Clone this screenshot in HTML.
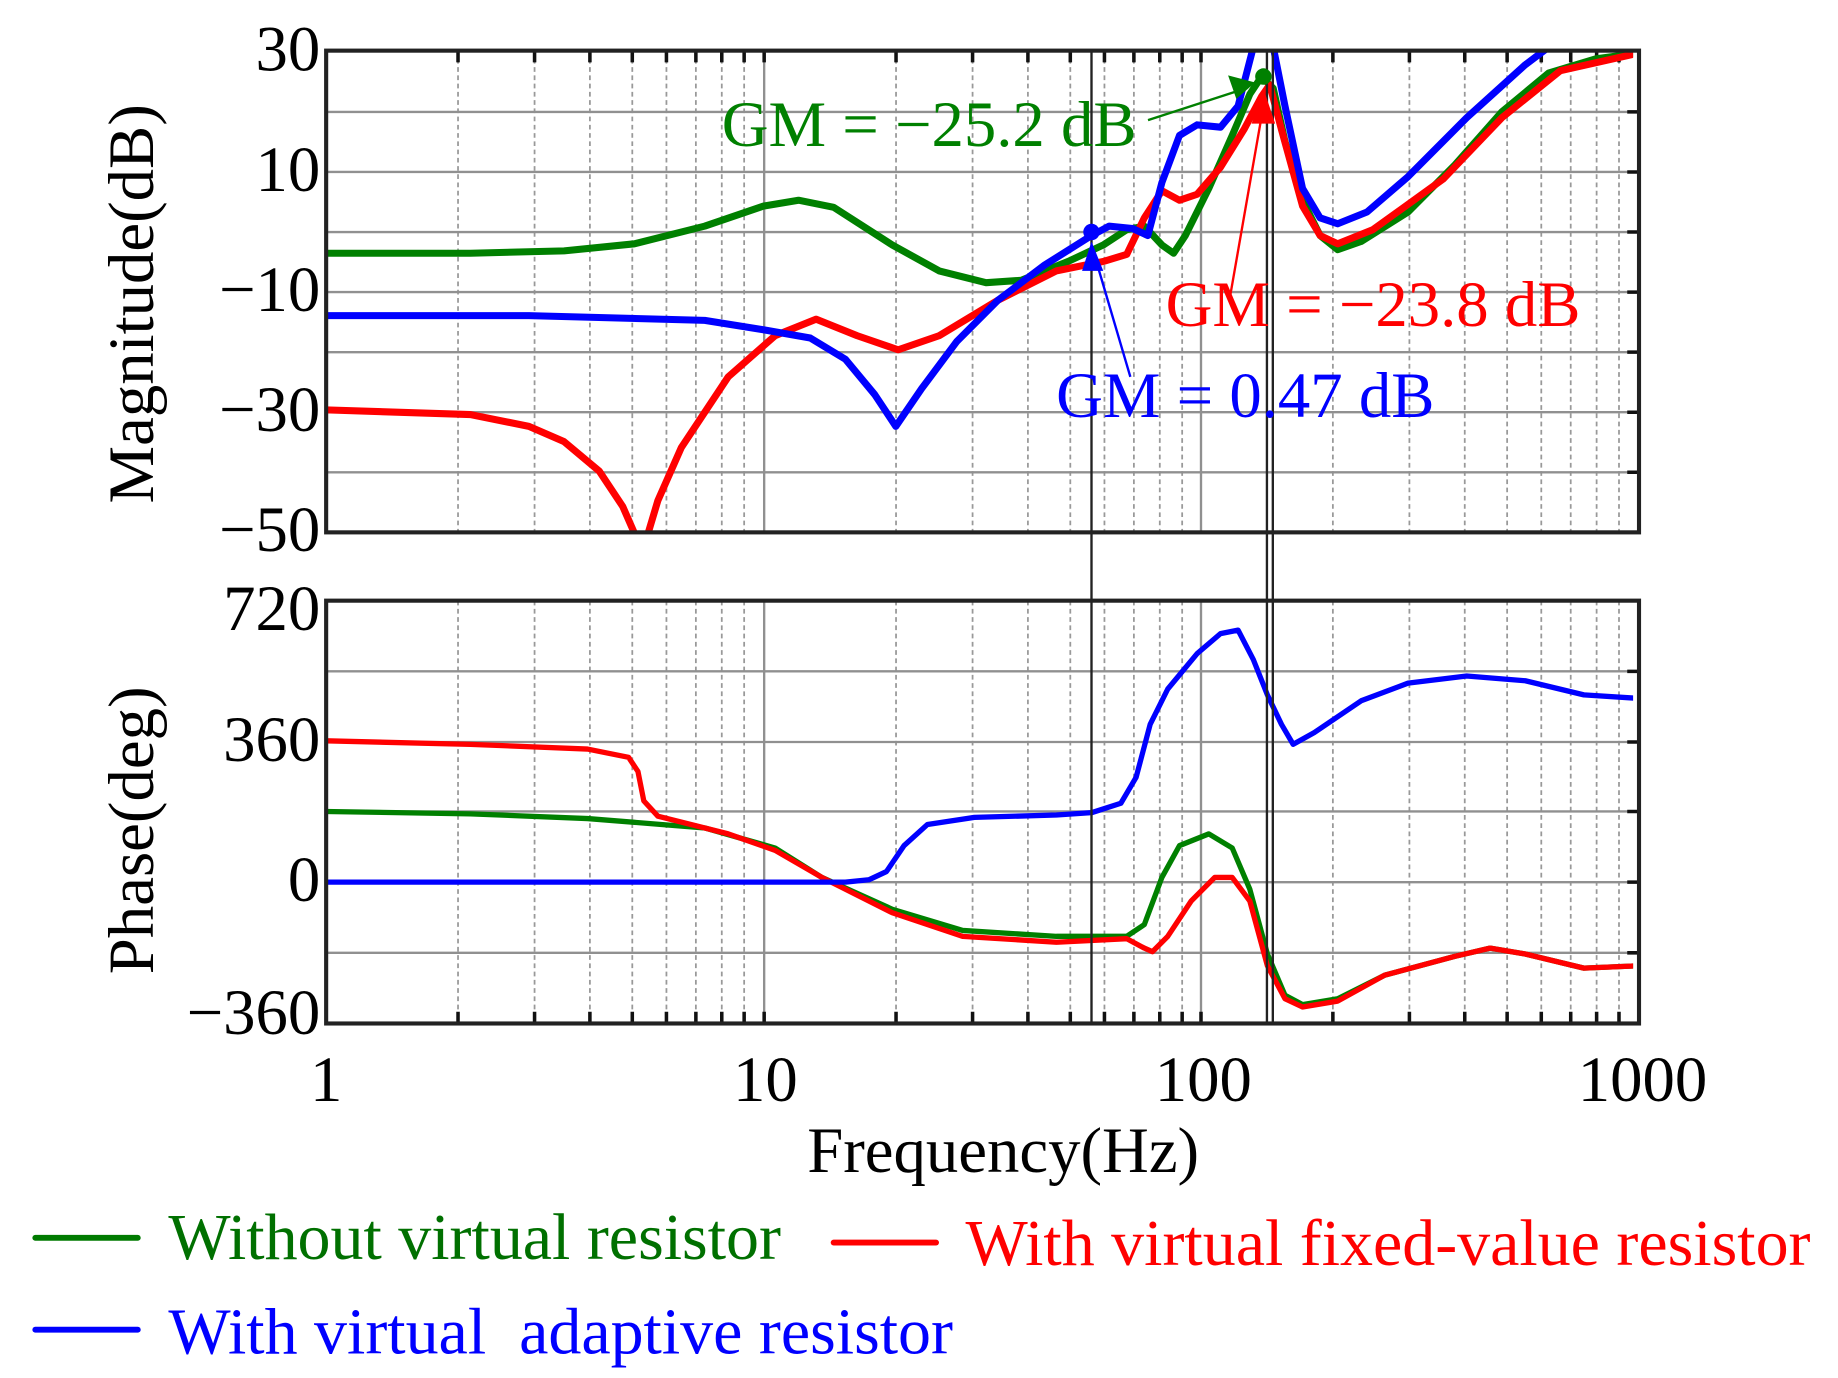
<!DOCTYPE html>
<html><head><meta charset="utf-8"><style>
html,body{margin:0;padding:0;background:#fff;}
svg{display:block;}
text{font-family:"Liberation Serif",serif;}
</style></head><body>
<svg width="1838" height="1378" viewBox="0 0 1561 1170" preserveAspectRatio="none" xmlns="http://www.w3.org/2000/svg">
<defs>
<clipPath id="c1"><rect x="277" y="43" width="1115" height="409"/></clipPath>
<clipPath id="c2"><rect x="277" y="510" width="1115" height="359"/></clipPath>
</defs>
<g stroke="#999" stroke-width="1.5" stroke-dasharray="4,3" fill="none">
<path d="M389 43V452M454 43V452M501 43V452M537 43V452M566 43V452M591 43V452M613 43V452M632 43V452
M761 43V452M826 43V452M873 43V452M909 43V452M938 43V452M963 43V452M985 43V452M1004 43V452
M1132 43V452M1197 43V452M1244 43V452M1280 43V452M1309 43V452M1334 43V452M1356 43V452M1375 43V452
M389 510V869M454 510V869M501 510V869M537 510V869M566 510V869M591 510V869M613 510V869M632 510V869
M761 510V869M826 510V869M873 510V869M909 510V869M938 510V869M963 510V869M985 510V869M1004 510V869
M1132 510V869M1197 510V869M1244 510V869M1280 510V869M1309 510V869M1334 510V869M1356 510V869M1375 510V869"/>
</g>
<g stroke="#909090" stroke-width="2" fill="none">
<path d="M649 43V452M1020 43V452M649 510V869M1020 510V869"/>
<path d="M277 95H1392M277 146H1392M277 197H1392M277 248H1392M277 299H1392M277 350H1392M277 401H1392"/>
<path d="M277 570H1392M277 630H1392M277 689H1392M277 749H1392M277 809H1392"/>
</g>
<g stroke="#111" stroke-width="3" fill="none">
<path d="M389 43v10M454 43v10M501 43v10M537 43v10M566 43v10M591 43v10M613 43v10M632 43v10M649 43v10M761 43v10M826 43v10M873 43v10M909 43v10M938 43v10M963 43v10M985 43v10M1004 43v10M1020 43v10M1132 43v10M1197 43v10M1244 43v10M1280 43v10M1309 43v10M1334 43v10M1356 43v10M1375 43v10"/>
<path d="M389 869v-10M454 869v-10M501 869v-10M537 869v-10M566 869v-10M591 869v-10M613 869v-10M632 869v-10M649 869v-10M761 869v-10M826 869v-10M873 869v-10M909 869v-10M938 869v-10M963 869v-10M985 869v-10M1004 869v-10M1020 869v-10M1132 869v-10M1197 869v-10M1244 869v-10M1280 869v-10M1309 869v-10M1334 869v-10M1356 869v-10M1375 869v-10"/>
<path d="M1392 95h-10M1392 146h-10M1392 197h-10M1392 248h-10M1392 299h-10M1392 350h-10M1392 401h-10M1392 570h-10M1392 630h-10M1392 689h-10M1392 749h-10M1392 809h-10"/>
</g>
<g transform="translate(277,0) scale(0.9955,1) translate(-277,0)">
<g clip-path="url(#c1)" fill="none" stroke-width="6" stroke-linejoin="round" stroke-linecap="round">
<polyline stroke="#008000" points="277,215 400,215 480,213 540,207 600,192 650,175 680,170 710,176 760,208 800,230 840,240 870,238 910,222 940,208 960,195 975,192 990,208 1000,215 1010,200 1030,160 1050,115 1065,80 1075,65 1085,75 1095,120 1110,170 1125,200 1140,212 1160,205 1200,180 1240,140 1280,95 1320,62 1360,50 1397,45"/>
<polyline stroke="#ff0000" points="277,348 400,352 450,362 480,375 510,400 530,430 541,455 551,455 560,425 580,380 620,320 660,285 695,271 730,285 765,297 800,285 850,255 900,230 940,222 960,216 975,185 990,162 1005,170 1020,165 1040,142 1060,110 1075,82 1082,72 1092,110 1110,175 1125,200 1140,207 1170,195 1230,152 1280,100 1330,60 1397,45"/>
<polyline stroke="#0000ff" points="277,268 450,268 600,272 650,280 690,287 720,305 745,335 763,362 785,330 815,290 850,255 890,225 930,200 945,192 965,194 978,200 990,155 1005,115 1020,106 1040,108 1055,90 1068,40 1085,40 1095,90 1110,160 1125,185 1140,190 1165,180 1200,150 1250,100 1300,55 1320,40 1397,40"/>
</g>
<g clip-path="url(#c2)" fill="none" stroke-width="4.5" stroke-linejoin="round" stroke-linecap="round">
<polyline stroke="#008000" points="277,689 400,691 500,695 600,703 660,720 700,745 760,772 820,790 900,795 960,795 975,785 990,745 1005,718 1030,708 1050,720 1065,755 1080,810 1095,845 1110,853 1140,848 1180,828 1240,812 1270,805 1300,810 1350,822 1397,820"/>
<polyline stroke="#ff0000" points="277,629 400,632 500,636 535,643 543,655 548,680 560,693 620,708 660,722 700,745 760,775 820,795 900,800 960,797 975,805 982,808 995,795 1015,765 1035,745 1050,745 1065,765 1080,820 1095,848 1110,855 1140,850 1180,828 1240,812 1270,805 1300,810 1350,822 1397,820"/>
<polyline stroke="#0000ff" points="277,749 720,749 740,747 755,740 770,718 790,700 830,694 900,692 930,690 955,682 968,660 980,615 995,585 1020,555 1040,538 1055,535 1068,560 1080,590 1092,615 1102,632 1120,622 1160,595 1200,580 1250,574 1300,578 1350,590 1397,593"/>
</g>
</g>
<g stroke="#222" stroke-width="2" fill="none">
<path d="M927 43V869M1076 43V869M1081 43V869"/>
</g>
<g stroke="#222" stroke-width="3.5" fill="none">
<rect x="277" y="43" width="1115" height="409"/>
<rect x="277" y="510" width="1115" height="359"/>
</g>
<line x1="975" y1="102" x2="1058" y2="75" stroke="#008000" stroke-width="2"/>
<polygon points="1066,70 1043,64 1050,84" fill="#008000"/>
<circle cx="1073" cy="65" r="7" fill="#008000"/>
<line x1="1045" y1="250" x2="1073" y2="90" stroke="#ff0000" stroke-width="2"/>
<polygon points="1073,75 1063,105 1083,105" fill="#ff0000"/>
<line x1="960" y1="320" x2="932" y2="225" stroke="#0000ff" stroke-width="2"/>
<polygon points="927,205 919,230 937,230" fill="#0000ff"/>
<circle cx="927" cy="197" r="7" fill="#0000ff"/>
<g font-size="55">
<text x="613" y="124" fill="#008000">GM = −25.2 dB</text>
<text x="990" y="277" fill="#ff0000">GM = −23.8 dB</text>
<text x="897" y="354" fill="#0000ff">GM = 0.47 dB</text>
</g>
<g font-size="55" fill="#000" text-anchor="end">
<text x="272" y="60">30</text>
<text x="272" y="162">10</text>
<text x="272" y="264">−10</text>
<text x="272" y="366">−30</text>
<text x="272" y="468">−50</text>
<text x="272" y="535">720</text>
<text x="272" y="646">360</text>
<text x="272" y="765">0</text>
<text x="272" y="878">−360</text>
</g>
<g font-size="55" fill="#000" text-anchor="middle">
<text x="277" y="935">1</text>
<text x="650" y="935">10</text>
<text x="1022" y="935">100</text>
<text x="1395" y="935">1000</text>
<text x="852" y="995">Frequency(Hz)</text>
<text transform="translate(130,258) rotate(-90)">Magnitude(dB)</text>
<text transform="translate(130,705) rotate(-90)">Phase(deg)</text>
</g>
<g font-size="56">
<line x1="30" y1="1051" x2="117" y2="1051" stroke="#007a00" stroke-width="5" stroke-linecap="round"/>
<text x="143" y="1069" fill="#007000">Without virtual resistor</text>
<line x1="708" y1="1055" x2="795" y2="1055" stroke="#ff0000" stroke-width="5" stroke-linecap="round"/>
<text x="820" y="1074" fill="#ff0000">With virtual fixed-value resistor</text>
<line x1="30" y1="1129" x2="117" y2="1129" stroke="#0000ff" stroke-width="5" stroke-linecap="round"/>
<text x="143" y="1149" fill="#0000ff" xml:space="preserve">With virtual  adaptive resistor</text>
</g>
</svg>
</body></html>
